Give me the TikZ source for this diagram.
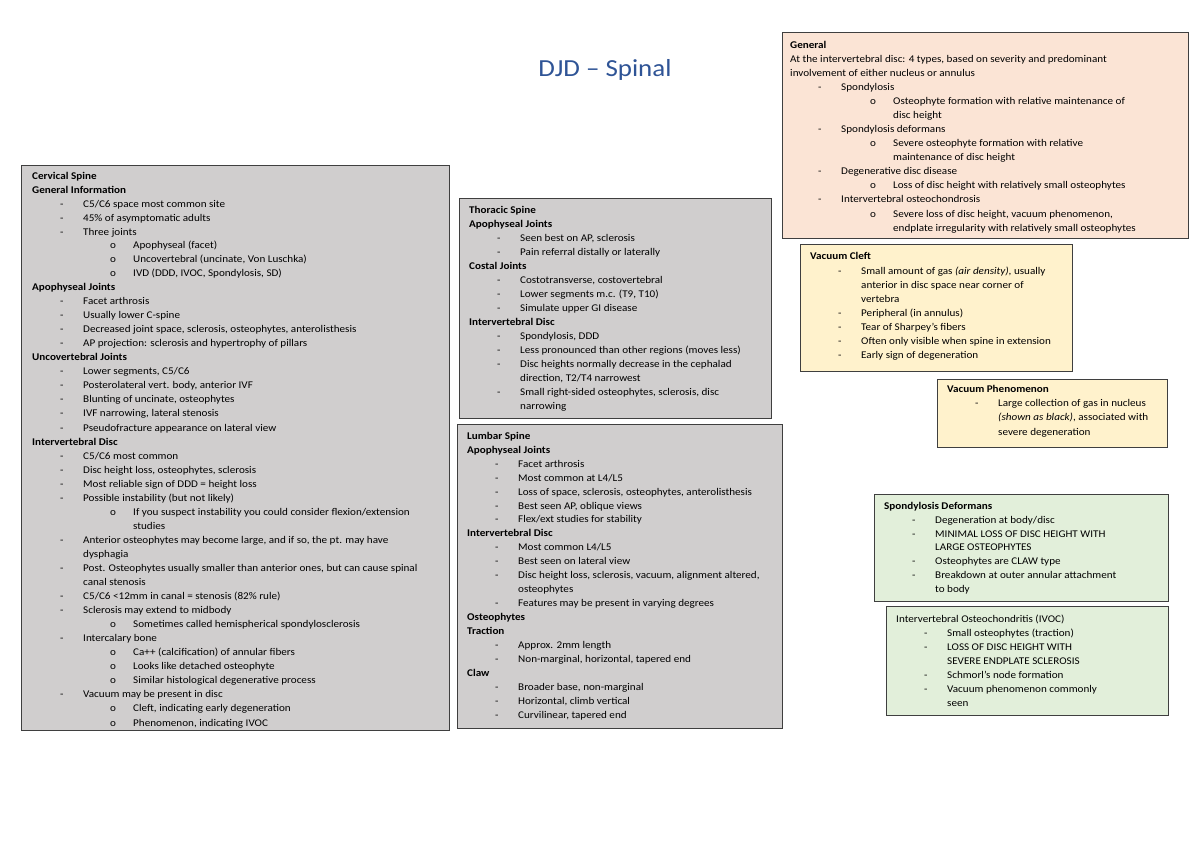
\documentclass[tikz,border=0pt]{standalone}
\usepackage{fontspec}
\setmainfont{Carlito}[FakeStretch=1.08]
\newfontfamily\ttlfont{Carlito}[FakeStretch=1.1]
\definecolor{boxgray}{HTML}{D0CECE}
\definecolor{peach}{HTML}{FBE4D5}
\definecolor{ylw}{HTML}{FFF2CC}
\definecolor{grn}{HTML}{E2EFDA}
\definecolor{ttl}{HTML}{2F5496}
\definecolor{edge}{HTML}{3F3F3F}
\newcommand\T[3]{\node[txt] at (#1,#2) {#3};}
\newcommand\B[3]{\node[txt,font=\fontsize{10.3}{11}\selectfont\bfseries] at (#1,#2) {#3};}
\newcommand\D[3]{\node[txt] at (#1,#2) {-}; \node[txt] at (#1+23,#2) {#3};}
\newcommand\C[3]{\node[txt] at (#1,#2) {o}; \node[txt] at (#1+23,#2) {#3};}
\begin{document}
\begin{tikzpicture}[x=1pt,y=-1pt,
  txt/.style={anchor=west,inner sep=0pt,text height=7pt,text depth=2pt,font=\fontsize{10.3}{11}\selectfont},
  box/.style={draw=edge,line width=1pt}]
\useasboundingbox[fill=white] (0,0) rectangle (1200,848);
\node[font=\ttlfont\fontsize{24.5}{26}\selectfont,text=ttl] (title) at (605,70) {DJD – Spinal};
% Cervical
\path[box,fill=boxgray] (21,166) rectangle (449,730);
\node (cerv) at (235,448) {};
\begin{scope}
\clip (21,166) rectangle (449,729);
\B{32}{177}{Cervical Spine}
\B{32}{191}{General Information}
\D{60}{205}{C5/C6 space most common site}
\D{60}{219}{45\% of asymptomatic adults}
\D{60}{233}{Three joints}
\C{110}{246}{Apophyseal (facet)}
\C{110}{260}{Uncovertebral (uncinate, Von Luschka)}
\C{110}{274}{IVD (DDD, IVOC, Spondylosis, SD)}
\B{32}{288}{Apophyseal Joints}
\D{60}{302}{Facet arthrosis}
\D{60}{316}{Usually lower C-spine}
\D{60}{330}{Decreased joint space, sclerosis, osteophytes, anterolisthesis}
\D{60}{344}{AP projection: sclerosis and hypertrophy of pillars}
\B{32}{358}{Uncovertebral Joints}
\D{60}{372}{Lower segments, C5/C6}
\D{60}{386}{Posterolateral vert. body, anterior IVF}
\D{60}{400}{Blunting of uncinate, osteophytes}
\D{60}{414}{IVF narrowing, lateral stenosis}
\D{60}{429}{Pseudofracture appearance on lateral view}
\B{32}{443}{Intervertebral Disc}
\D{60}{457}{C5/C6 most common}
\D{60}{471}{Disc height loss, osteophytes, sclerosis}
\D{60}{485}{Most reliable sign of DDD = height loss}
\D{60}{499}{Possible instability (but not likely)}
\C{110}{513}{If you suspect instability you could consider flexion/extension}
\T{133}{527}{studies}
\D{60}{541}{Anterior osteophytes may become large, and if so, the pt. may have}
\T{83}{555}{dysphagia}
\D{60}{569}{Post. Osteophytes usually smaller than anterior ones, but can cause spinal}
\T{83}{583}{canal stenosis}
\D{60}{597}{C5/C6 <12mm in canal = stenosis (82\% rule)}
\D{60}{611}{Sclerosis may extend to midbody}
\C{110}{625}{Sometimes called hemispherical spondylosclerosis}
\D{60}{639}{Intercalary bone}
\C{110}{653}{Ca++ (calcification) of annular fibers}
\C{110}{667}{Looks like detached osteophyte}
\C{110}{681}{Similar histological degenerative process}
\D{60}{695}{Vacuum may be present in disc}
\C{110}{709}{Cleft, indicating early degeneration}
\C{110}{724}{Phenomenon, indicating IVOC}
\end{scope}
% Thoracic
\path[box,fill=boxgray] (459,198) rectangle (771,418);
\node (thor) at (615,308) {};
\B{469}{211}{Thoracic Spine}
\B{469}{225}{Apophyseal Joints}
\D{497}{239}{Seen best on AP, sclerosis}
\D{497}{253}{Pain referral distally or laterally}
\B{469}{267}{Costal Joints}
\D{497}{281}{Costotransverse, costovertebral}
\D{497}{295}{Lower segments m.c. (T9, T10)}
\D{497}{309}{Simulate upper GI disease}
\B{469}{323}{Intervertebral Disc}
\D{497}{337}{Spondylosis, DDD}
\D{497}{351}{Less pronounced than other regions (moves less)}
\D{497}{365}{Disc heights normally decrease in the cephalad}
\T{520}{379}{direction, T2/T4 narrowest}
\D{497}{393}{Small right-sided osteophytes, sclerosis, disc}
\T{520}{407}{narrowing}
% Lumbar
\path[box,fill=boxgray] (457,424) rectangle (782,728);
\node (lumb) at (620,576) {};
\B{467}{437}{Lumbar Spine}
\B{467}{451}{Apophyseal Joints}
\D{495}{465}{Facet arthrosis}
\D{495}{479}{Most common at L4/L5}
\D{495}{493}{Loss of space, sclerosis, osteophytes, anterolisthesis}
\D{495}{507}{Best seen AP, oblique views}
\D{495}{520}{Flex/ext studies for stability}
\B{467}{534}{Intervertebral Disc}
\D{495}{548}{Most common L4/L5}
\D{495}{562}{Best seen on lateral view}
\D{495}{576}{Disc height loss, sclerosis, vacuum, alignment altered,}
\T{518}{590}{osteophytes}
\D{495}{604}{Features may be present in varying degrees}
\B{467}{618}{Osteophytes}
\B{467}{632}{Traction}
\D{495}{646}{Approx. 2mm length}
\D{495}{660}{Non-marginal, horizontal, tapered end}
\B{467}{674}{Claw}
\D{495}{688}{Broader base, non-marginal}
\D{495}{702}{Horizontal, climb vertical}
\D{495}{716}{Curvilinear, tapered end}
% General
\path[box,fill=peach] (782,33) rectangle (1188,238);
\node (gen) at (985,135) {};
\B{790}{46}{General}
\T{790}{60}{At the intervertebral disc: 4 types, based on severity and predominant}
\T{790}{74}{involvement of either nucleus or annulus}
\D{818}{88}{Spondylosis}
\C{870}{102}{Osteophyte formation with relative maintenance of}
\T{893}{116}{disc height}
\D{818}{130}{Spondylosis deformans}
\C{870}{144}{Severe osteophyte formation with relative}
\T{893}{158}{maintenance of disc height}
\D{818}{172}{Degenerative disc disease}
\C{870}{186}{Loss of disc height with relatively small osteophytes}
\D{818}{200}{Intervertebral osteochondrosis}
\C{870}{215}{Severe loss of disc height, vacuum phenomenon,}
\T{893}{229}{endplate irregularity with relatively small osteophytes}
% Vacuum Cleft
\path[box,fill=ylw] (800,244) rectangle (1072,371);
\node (vc) at (936,307) {};
\B{810}{257}{Vacuum Cleft}
\D{838}{272}{Small amount of gas \textit{(air density)}, usually}
\T{861}{286}{anterior in disc space near corner of}
\T{861}{300}{vertebra}
\D{838}{314}{Peripheral (in annulus)}
\D{838}{328}{Tear of Sharpey’s fibers}
\D{838}{342}{Often only visible when spine in extension}
\D{838}{356}{Early sign of degeneration}
% Vacuum Phenomenon
\path[box,fill=ylw] (937,379) rectangle (1167,447);
\node (vp) at (1052,413) {};
\B{947}{390}{Vacuum Phenomenon}
\D{975}{404}{Large collection of gas in nucleus}
\T{998}{418}{\textit{(shown as black)}, associated with}
\T{998}{433}{severe degeneration}
% Spondylosis Deformans
\path[box,fill=grn] (874,494) rectangle (1168,601);
\node (sd) at (1021,547) {};
\B{884}{507}{Spondylosis Deformans}
\D{912}{521}{Degeneration at body/disc}
\D{912}{535}{MINIMAL LOSS OF DISC HEIGHT WITH}
\T{935}{548}{LARGE OSTEOPHYTES}
\D{912}{562}{Osteophytes are CLAW type}
\D{912}{576}{Breakdown at outer annular attachment}
\T{935}{590}{to body}
% IVOC
\path[box,fill=grn] (886,606) rectangle (1168,715);
\node (ivoc) at (1027,660) {};
\T{896}{620}{Intervertebral Osteochondritis (IVOC)}
\D{924}{634}{Small osteophytes (traction)}
\D{924}{648}{LOSS OF DISC HEIGHT WITH}
\T{947}{662}{SEVERE ENDPLATE SCLEROSIS}
\D{924}{676}{Schmorl’s node formation}
\D{924}{690}{Vacuum phenomenon commonly}
\T{947}{704}{seen}
\end{tikzpicture}
\end{document}
